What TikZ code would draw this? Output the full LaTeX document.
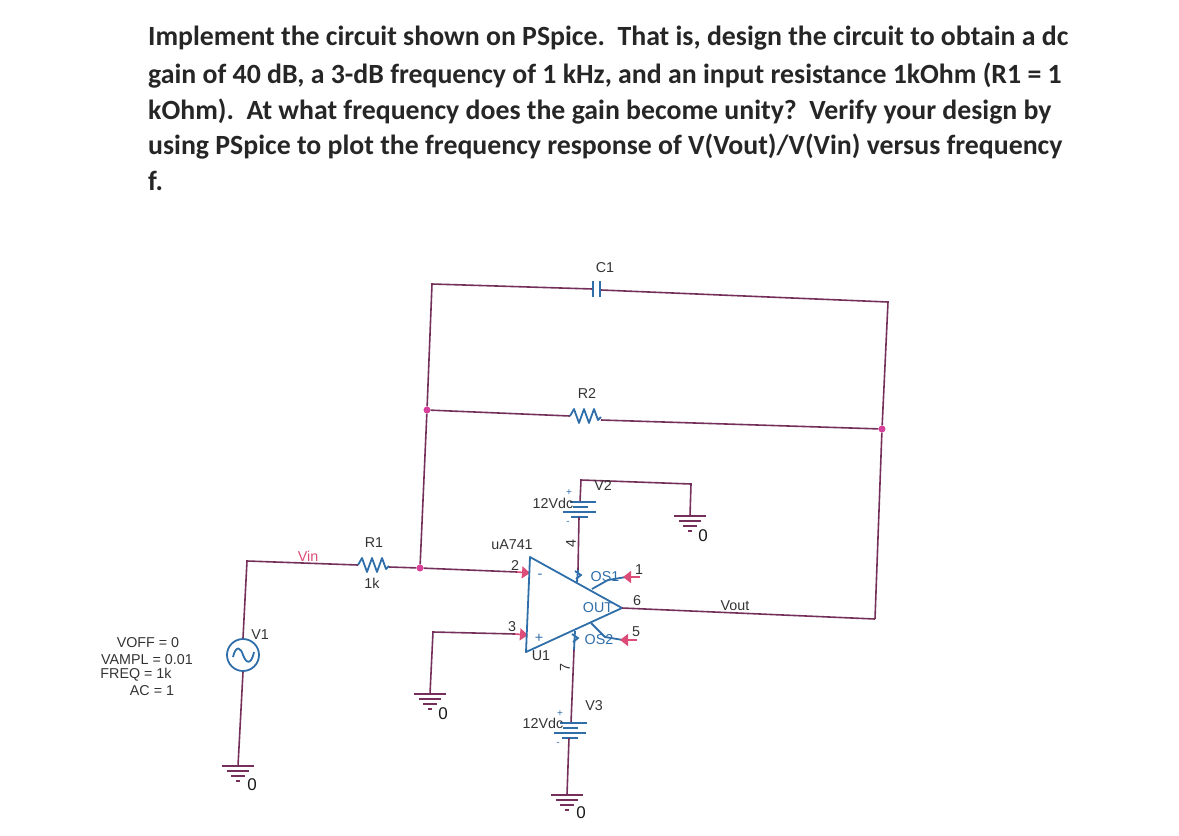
\documentclass[tikz,border=0pt]{standalone}
\usepackage{fontspec}
\setmainfont{Liberation Sans}
\newfontfamily\probfont{Carlito}
\usetikzlibrary{arrows.meta}
\definecolor{wirecol}{HTML}{74305A}
\definecolor{partcol}{HTML}{2F6EA8}
\definecolor{pincol}{HTML}{DC4C78}
\definecolor{dotcol}{HTML}{D8409C}
\tikzset{
  wire/.style = {draw = wirecol, line width = 1.6pt},
  part/.style = {draw = partcol, line width = 1.8pt},
  pintip/.style = {draw = pincol, line width = 1.6pt, -{Triangle[length = 8pt, width = 12pt, fill = pincol]}},
  dotnode/.style = {circle, fill = dotcol, inner sep = 0pt, minimum size = 7pt},
  lbl/.style = {font = \fontsize{14.3}{16}\selectfont, text = black!80, inner sep = 0pt},
  partlbl/.style = {lbl, text = partcol},
  gndlbl/.style = {lbl, font = \fontsize{17}{18}\selectfont, text = black!90},
  signlbl/.style = {lbl, font = \fontsize{10}{10}\selectfont, text = partcol},
  problem/.style = {anchor = base west, inner sep = 0pt, text = black!85, font = \probfont\bfseries\fontsize{27.8}{30}\selectfont},
  gndsym/.pic = {
    \draw [draw = wirecol, line width = 1.7pt] (-16, 0) -- (16, 0);
    \draw [draw = wirecol, line width = 1.7pt] (-11, 5) -- (11, 5);
    \draw [draw = wirecol, line width = 1.7pt] (-7, 10) -- (7, 10);
    \draw [draw = wirecol, line width = 1.7pt] (-2, 15) -- (2, 15);
  },
  reszig/.pic = {
    \draw [part, line join = round] (0, 0) -- (4, -7) -- (9, 7) -- (14, -7) -- (19, 7) -- (24, -7) -- (28, 4) -- (31, 1);
  }
}
\begin{document}
\begin{tikzpicture}[x = 1pt, y = -1pt]
  \useasboundingbox (0, 0) rectangle (1179, 836);
  % question text
  \node [problem] (line1) at (148, 45) {Implement the circuit shown on PSpice.\ \ That is, design the circuit to obtain a dc};
  \node [problem] (line2) at (148, 83) {gain of 40 dB, a 3-dB frequency of 1 kHz, and an input resistance 1kOhm (R1 = 1};
  \node [problem] (line3) at (148, 119) {kOhm).\ \ At what frequency does the gain become unity?\ \ Verify your design by};
  \node [problem] (line4) at (148, 154) {using PSpice to plot the frequency response of V(Vout)/V(Vin) versus frequency};
  \node [problem] (line5) at (148, 190) {f.};

  % corners and pins
  \coordinate (tl) at (432, 284);
  \coordinate (tr) at (888, 302);
  \coordinate (c1a) at (593, 289);
  \coordinate (c1b) at (601, 290);
  \coordinate (r2a) at (570, 416);
  \coordinate (r2b) at (601, 420);
  \coordinate (vinc) at (247, 561);
  \coordinate (r1a) at (358, 565);
  \coordinate (r1b) at (389, 567);
  \coordinate (p2) at (517, 572);
  \coordinate (p2t) at (530, 573);
  \coordinate (p3c) at (433, 632);
  \coordinate (p3) at (515, 634);
  \coordinate (p3t) at (528, 635);
  \coordinate (triA) at (530, 557);
  \coordinate (triB) at (526, 652);
  \coordinate (out) at (622, 608);
  \coordinate (outc) at (875, 619);
  \coordinate (gnd1) at (238, 766);
  \coordinate (gnd2) at (430, 694);
  \coordinate (gnd3) at (690, 516);
  \coordinate (gnd4) at (567, 795);
  \coordinate (v2tl) at (581, 480);
  \coordinate (v2tr) at (691, 484);
  \coordinate (v2top) at (580, 502);
  \coordinate (v2bot) at (579, 517);
  \coordinate (p4) at (578, 570);
  \coordinate (p4e) at (577, 582);
  \coordinate (v3top) at (571, 723);
  \coordinate (v3bot) at (569, 738);
  \coordinate (p7) at (574, 650);
  \coordinate (p7e) at (575, 631);

  \node [dotnode] (jtop) at (427, 410) {};
  \node [dotnode] (jright) at (882, 429) {};
  \node [dotnode] (jin) at (420, 568) {};
  \node [circle, draw = partcol, line width = 1.8pt, minimum size = 32pt, inner sep = 0pt] (v1) at (243, 655) {};

  % feedback loop
  \draw [wire] (c1a) -- (tl) -- (jtop) -- (jin);
  \draw [wire] (c1b) -- (tr) -- (jright) -- (outc);
  \draw [wire] (jtop) -- (r2a);
  \draw [wire] (r2b) -- (jright);
  \draw [part] (593, 281) -- (593, 297);
  \draw [part] (600, 281) -- (600, 297);
  \path (r2a) pic {reszig};

  % input side
  \draw [wire] (v1.north) -- (vinc) -- (r1a);
  \draw [wire] (r1b) -- (jin) -- (p2);
  \path (r1a) pic {reszig};
  \draw [wire] (v1.south) -- (gnd1);
  \path (gnd1) pic {gndsym};
  \draw [part] (233, 657) .. controls (236, 644) and (241, 648) .. (243, 655) .. controls (246, 663) and (251, 666) .. (254, 652);
  \draw [wire] (gnd2) -- (p3c) -- (p3);
  \path (gnd2) pic {gndsym};
  \draw [pintip] (p2) -- (p2t);
  \draw [pintip] (p3) -- (p3t);

  % op amp
  \draw [part, line join = round] (triA) -- (triB) -- (out) -- cycle;
  \draw [wire] (out) -- (outc);
  \draw [part] (592, 589) -- (608, 580) -- (626, 577);
  \draw [part] (591, 623) -- (605, 637) -- (623, 640);
  \draw [pintip] (640, 577) -- (623, 577);
  \draw [pintip] (637, 640) -- (620, 640);
  \draw [part] (575, 571) -- (581, 575) -- (576, 579);
  \draw [part] (572, 634) -- (578, 638) -- (573, 642);

  % V2 supply
  \draw [wire] (v2top) -- (v2tl) -- (v2tr) -- (gnd3);
  \path (gnd3) pic {gndsym};
  \draw [part] (570, 502) -- (596, 502);
  \draw [part] (573, 507) -- (588, 507);
  \draw [part] (563, 512) -- (596, 512);
  \draw [part] (571, 517) -- (588, 517);
  \draw [wire] (v2bot) -- (p4);
  \draw [part] (p4) -- (p4e);

  % V3 supply
  \draw [part] (p7e) -- (p7);
  \draw [wire] (p7) -- (v3top);
  \draw [part] (560, 723) -- (587, 723);
  \draw [part] (563, 728) -- (578, 728);
  \draw [part] (554, 733) -- (586, 733);
  \draw [part] (562, 738) -- (578, 738);
  \draw [wire] (v3bot) -- (gnd4);
  \path (gnd4) pic {gndsym};

  % labels
  \node [lbl] (c1lbl) at (605, 268) {C1};
  \node [lbl] (r2lbl) at (587, 394) {R2};
  \node [lbl] (r1lbl) at (374, 543) {R1};
  \node [lbl] (r1val) at (372, 583) {1k};
  \node [lbl, text = pincol] (vinlbl) at (308, 556) {Vin};
  \node [lbl] (vinst) at (260, 635) {V1};
  \node [lbl] (voff) at (148, 643) {VOFF = 0};
  \node [lbl] (vampl) at (147, 660) {VAMPL = 0.01};
  \node [lbl] (vfreq) at (136, 675) {FREQ = 1k};
  \node [lbl] (vac) at (152, 691) {AC = 1};
  \node [gndlbl] (g1lbl) at (252, 785) {0};
  \node [gndlbl] (g2lbl) at (443, 714) {0};
  \node [gndlbl] (g3lbl) at (703, 536) {0};
  \node [gndlbl] (g4lbl) at (581, 813) {0};
  \node [lbl] (oplbl) at (512, 545) {uA741};
  \node [lbl] (u1lbl) at (541, 656) {U1};
  \node [lbl] (pin2) at (515, 565) {2};
  \node [lbl] (pin3) at (512, 627) {3};
  \node [lbl, rotate = 90] (pin4) at (571, 544) {4};
  \node [lbl, rotate = 90] (pin7) at (565, 668) {7};
  \node [lbl] (pin1) at (639, 570) {1};
  \node [lbl] (pin6) at (637, 601) {6};
  \node [lbl] (pin5) at (636, 632) {5};
  \node [partlbl] (os1) at (605, 577) {OS1};
  \node [partlbl] (os2) at (599, 640) {OS2};
  \node [partlbl] (outlbl) at (598, 608) {OUT};
  \node [lbl, text = partcol] (minus) at (540, 576) {-};
  \node [lbl, text = partcol] (plus) at (539, 638) {+};
  \node [lbl] (v2lbl) at (603, 486) {V2};
  \node [lbl] (v2val) at (553, 503) {12Vdc};
  \node [signlbl] (v2plus) at (569, 493) {+};
  \node [signlbl] (v2minus) at (568, 523) {-};
  \node [lbl] (v3lbl) at (594, 706) {V3};
  \node [lbl] (v3val) at (543, 723) {12Vdc};
  \node [signlbl] (v3plus) at (560, 714) {+};
  \node [signlbl] (v3minus) at (558, 744) {-};
  \node [lbl] (voutlbl) at (735, 606) {Vout};
\end{tikzpicture}
\end{document}
